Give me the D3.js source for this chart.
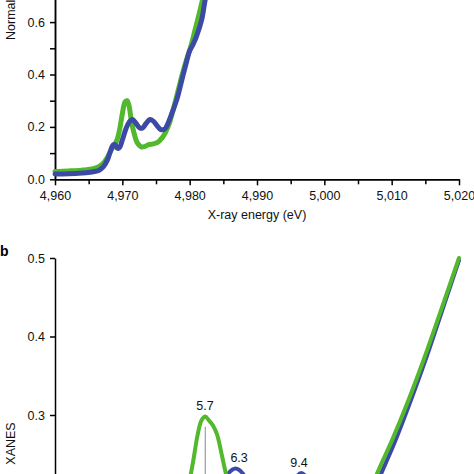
<!DOCTYPE html>
<meta charset="utf-8">
<style>
body { margin: 0; background: #fff; }
svg { display: block; font-family: "Liberation Sans", Arial, sans-serif; }
.axis path, .axis line { stroke: #000; stroke-width: 1.5px; }
.axis text { font-size: 12.5px; fill: #111; font-family: "Liberation Sans", Arial, sans-serif; }
.lbl { font-size: 12.5px; fill: #111; }
</style>
<svg width="474" height="474"></svg>
<script src="https://d3js.org/d3.v7.min.js"></script>
<script>
// panel a: normalized absorption vs energy
var greenE = [4960, 4962, 4964, 4965.5, 4966.5, 4967.2, 4967.8, 4968.3, 4968.8, 4969.2, 4969.6, 4970.0, 4970.4, 4970.7, 4971.0, 4971.3, 4971.7, 4972.2, 4972.8, 4973.3, 4973.9, 4974.6, 4975.3, 4975.9, 4976.4, 4977.0, 4977.6, 4978.3, 4979.0, 4979.7, 4980.2, 4980.8, 4981.4, 4981.9, 4982.6, 4984];
var greenV = [0.030, 0.032, 0.035, 0.040, 0.048, 0.062, 0.085, 0.11, 0.13, 0.15, 0.19, 0.25, 0.295, 0.30, 0.28, 0.23, 0.18, 0.14, 0.124, 0.125, 0.132, 0.135, 0.142, 0.158, 0.178, 0.215, 0.27, 0.34, 0.41, 0.47, 0.51, 0.57, 0.63, 0.684, 0.75, 0.88];
var blueE = [4960, 4962, 4964, 4965.5, 4966.5, 4967.2, 4967.8, 4968.2, 4968.6, 4968.9, 4969.3, 4969.6, 4970.0, 4970.5, 4971.0, 4971.5, 4972.0, 4972.6, 4973.0, 4973.5, 4974.1, 4974.6, 4975.2, 4975.7, 4976.3, 4976.8, 4977.4, 4978.1, 4978.8, 4979.4, 4980.0, 4980.5, 4981.0, 4981.8, 4982.3, 4983, 4985];
var blueV = [0.020, 0.021, 0.024, 0.028, 0.034, 0.048, 0.075, 0.105, 0.130, 0.132, 0.118, 0.122, 0.150, 0.190, 0.218, 0.228, 0.215, 0.196, 0.196, 0.212, 0.228, 0.222, 0.203, 0.190, 0.192, 0.215, 0.255, 0.305, 0.375, 0.435, 0.49, 0.515, 0.545, 0.61, 0.684, 0.76, 0.90];
var xTicksA = [4960, 4970, 4980, 4990, 5000, 5010, 5020];
var yTicksA = [0, 0.2, 0.4, 0.6];

// panel b: pre-edge zoom
var greenBE = [4.7, 5.0, 5.2, 5.4, 5.55, 5.7, 5.85, 6.0, 6.17, 6.35, 6.5, 6.8, 7.2, 11.5, 12.1, 12.5, 13.1, 13.7, 14.3, 15.0, 15.75];
var greenBV = [0.17, 0.205, 0.237, 0.275, 0.293, 0.298, 0.293, 0.287, 0.275, 0.25, 0.228, 0.19, 0.16, 0.14, 0.19, 0.225, 0.268, 0.315, 0.366, 0.43, 0.50];
var blueBE = [6.3, 6.6, 6.9, 7.2, 7.5, 9.0, 9.5, 10.0, 12.0, 12.6, 13.2, 13.8, 14.4, 15.0, 15.75];
var blueBV = [0.20, 0.225, 0.232, 0.225, 0.20, 0.21, 0.226, 0.21, 0.17, 0.22, 0.265, 0.315, 0.368, 0.425, 0.497];
var yTicksB = [0.3, 0.4, 0.5];
var peakLabels = ["5.7", "6.3", "9.4"];
var peakX = [5.69, 7.04, 9.41];
var peakV = [0.306, 0.240, 0.234];

var green = "#52b82c", blue = "#3c4aa5";
var svg = d3.select("svg");

// ---- panel a
var xA = d3.scaleLinear().domain([4960, 5020]).range([55, 459]);
var yA = d3.scaleLinear().domain([0, 1]).range([179.3, -82.7]);

svg.append("g").attr("class", "axis")
    .attr("transform", "translate(0,179.3)")
    .call(d3.axisBottom(xA).tickValues(d3.range(4965, 5020, 10)).tickFormat("").tickSize(5).tickSizeOuter(0));
svg.append("g").attr("class", "axis")
    .attr("transform", "translate(0,179.3)")
    .call(d3.axisBottom(xA).tickValues(xTicksA).tickFormat(d3.format(",")).tickSize(6).tickPadding(6).tickSizeOuter(0));
svg.append("g").attr("class", "axis")
    .attr("transform", "translate(55,0)")
    .call(d3.axisLeft(yA).tickValues([0.1, 0.3, 0.5]).tickFormat("").tickSize(5).tickSizeOuter(0));
svg.append("g").attr("class", "axis")
    .attr("transform", "translate(55,0)")
    .call(d3.axisLeft(yA).tickValues(yTicksA).tickFormat(d3.format(".1f")).tickSize(5).tickPadding(5).tickSizeOuter(0));

var lineA = d3.line().x(function(d) { return xA(d[0]); }).y(function(d) { return yA(d[1]); }).curve(d3.curveCatmullRom);
svg.append("path").datum(d3.zip(greenE, greenV))
    .attr("d", lineA).attr("fill", "none").attr("stroke", green)
    .attr("stroke-width", 5).attr("stroke-linejoin", "round").attr("stroke-linecap", "round");
svg.append("path").datum(d3.zip(blueE, blueV))
    .attr("d", lineA).attr("fill", "none").attr("stroke", blue)
    .attr("stroke-width", 5).attr("stroke-linejoin", "round").attr("stroke-linecap", "round");

svg.append("text").attr("class", "lbl")
    .attr("x", 257).attr("y", 219).attr("text-anchor", "middle")
    .text("X-ray energy (eV)");
svg.append("text").attr("class", "lbl")
    .attr("transform", "translate(15,40) rotate(-90)")
    .text("Normalized absorption");

// ---- panel b
var xB = d3.scaleLinear().domain([-0.25, 15.75]).range([55, 459]);
var yB = d3.scaleLinear().domain([0, 0.5]).range([650.5, 258]);

svg.append("g").attr("class", "axis")
    .attr("transform", "translate(55,0)")
    .call(d3.axisLeft(yB).tickValues(yTicksB).tickFormat(d3.format(".1f")).tickSize(5).tickPadding(5).tickSizeOuter(0));

svg.append("line")
    .attr("x1", xB(5.7)).attr("x2", xB(5.7))
    .attr("y1", yB(0.285)).attr("y2", yB(0))
    .attr("stroke", "#888").attr("stroke-width", 1);

var lineB = d3.line().x(function(d) { return xB(d[0]); }).y(function(d) { return yB(d[1]); }).curve(d3.curveCatmullRom);
svg.append("path").datum(d3.zip(blueBE, blueBV))
    .attr("d", lineB).attr("fill", "none").attr("stroke", blue)
    .attr("stroke-width", 4).attr("stroke-linejoin", "round").attr("stroke-linecap", "round");
svg.append("path").datum(d3.zip(greenBE, greenBV))
    .attr("d", lineB).attr("fill", "none").attr("stroke", green)
    .attr("stroke-width", 4).attr("stroke-linejoin", "round").attr("stroke-linecap", "round");

svg.selectAll(".peak").data(peakLabels).enter().append("text")
    .attr("class", "lbl peak")
    .attr("x", function(d, i) { return xB(peakX[i]); })
    .attr("y", function(d, i) { return yB(peakV[i]); })
    .attr("text-anchor", "middle")
    .text(function(d) { return d; });

svg.append("text")
    .attr("x", 0).attr("y", 256)
    .style("font-size", "14px").style("font-weight", "bold")
    .text("b");
svg.append("text").attr("class", "lbl")
    .attr("transform", "translate(15,443.5) rotate(-90)")
    .attr("text-anchor", "middle")
    .text("XANES");
</script>
